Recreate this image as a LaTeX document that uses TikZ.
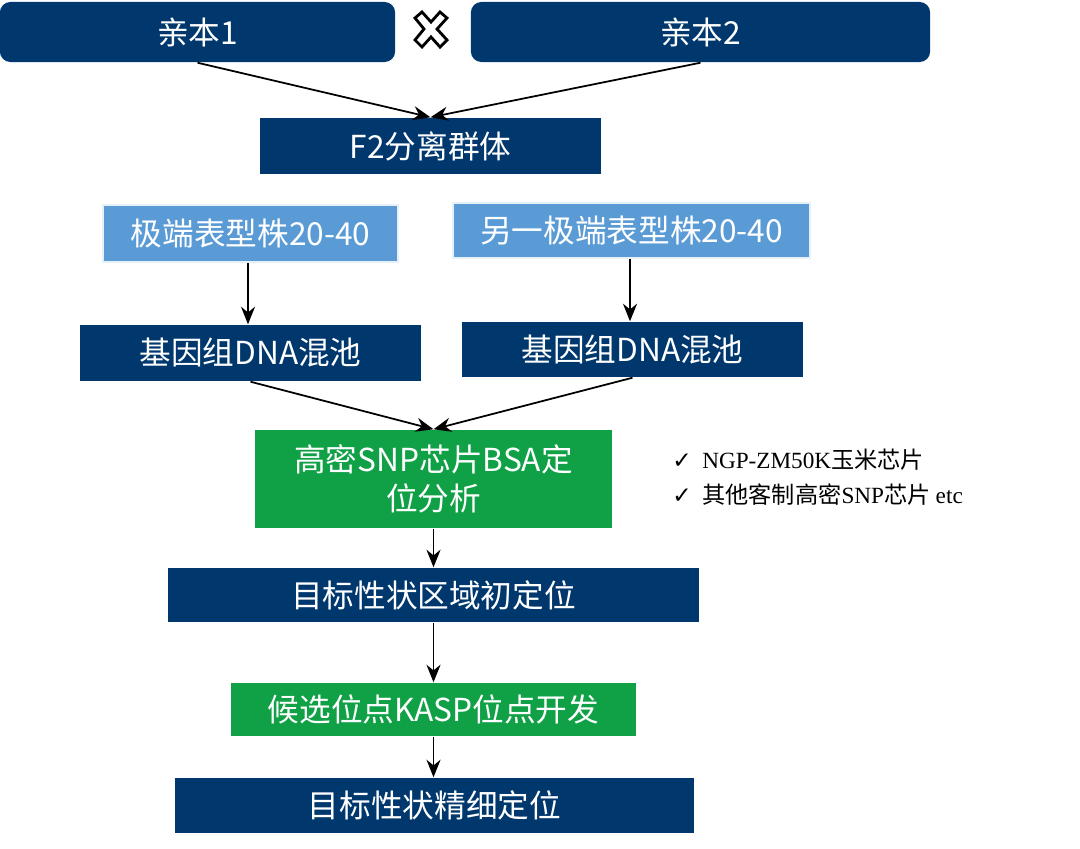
\documentclass[tikz,border=0pt]{standalone}
\usepackage{fontspec}
\setmainfont{Noto Sans CJK SC}
\newfontfamily\cjk{Noto Sans CJK SC}
\newfontfamily\serifl{Liberation Serif}
\newfontfamily\chk{DejaVu Sans}
\usetikzlibrary{arrows.meta}
\definecolor{navy}{RGB}{0,56,110}
\definecolor{lblue}{RGB}{91,155,213}
\definecolor{gr}{RGB}{16,160,70}
\tikzset{
 bx/.style={fill=navy,text=white,font=\fontsize{9}{11}\selectfont,inner sep=0pt,align=center},
 lb/.style={bx,fill=lblue,draw=white!85!lblue,line width=0.6pt},
 gb/.style={bx,fill=gr},
 ar/.style={-{Stealth[length=5pt,width=4pt]},line width=0.5pt},
}
\newcommand{\boxat}[6]{\node[#1,minimum width=#4*0.01cm,minimum height=#5*0.01cm,rounded corners=#6] (#2) at (#3) {};}
\begin{document}
\begin{tikzpicture}[x=0.01cm,y=-0.01cm]
\useasboundingbox (0,0) rectangle (1080,848);
\node[bx,minimum width=3.95cm,minimum height=0.6cm,rounded corners=3pt] (p1) at (197.5,32) {亲本1};
\node[bx,minimum width=4.59cm,minimum height=0.6cm,rounded corners=3pt] (p2) at (700.5,32) {亲本2};
\draw[line width=0.8pt,fill=white] (415,18)--(422,12)--(431,22)--(440,12)--(447,18)--(437,29)--(447,40)--(440,47)--(431,37)--(422,47)--(415,40)--(424,29)--cycle;
\node[bx,minimum width=3.41cm,minimum height=0.56cm] (f2) at (430.5,146) {F2分离群体};
\node[lb,minimum width=2.95cm,minimum height=0.57cm] (e1) at (250.5,233.5) {极端表型株20-40};
\node[lb,minimum width=3.57cm,minimum height=0.55cm] (e2) at (631.5,230.5) {另一极端表型株20-40};
\node[bx,minimum width=3.41cm,minimum height=0.56cm] (d1) at (250.5,353) {基因组DNA混池};
\node[bx,minimum width=3.41cm,minimum height=0.55cm] (d2) at (632.5,349.5) {基因组DNA混池};
\node[gb,minimum width=3.57cm,minimum height=0.98cm] (g) at (433.5,479) {高密SNP芯片BSA定\\位分析};
\node[bx,minimum width=5.31cm,minimum height=0.54cm] (r) at (433.5,595) {目标性状区域初定位};
\node[gb,minimum width=4.05cm,minimum height=0.53cm] (k) at (433.5,709.5) {候选位点KASP位点开发};
\node[bx,minimum width=5.19cm,minimum height=0.55cm] (fm) at (434.5,805.5) {目标性状精细定位};
\node[anchor=west,font=\fontsize{6.6}{8}\selectfont,align=left] (c1) at (660,460) {{\chk ✓}\ \ {\serifl NGP-ZM50K}玉米芯片};
\node[anchor=west,font=\fontsize{6.6}{8}\selectfont,align=left] (c2) at (660,495) {{\chk ✓}\ \ 其他客制高密{\serifl SNP}芯片 {\serifl etc}};
\draw[ar] (p1.south) -- (f2.north);
\draw[ar] (p2.south) -- (f2.north);
\draw[ar] ([xshift=-0.025cm]e1.south) -- ([xshift=-0.025cm]d1.north);
\draw[ar] ([xshift=-0.015cm]e2.south) -- ([xshift=-0.025cm]d2.north);
\draw[ar] (d1.south) -- (g.north);
\draw[ar] (d2.south) -- (g.north);
\draw[ar] (g.south) -- (r.north);
\draw[ar] (r.south) -- (k.north);
\draw[ar] (k.south) -- ([xshift=-0.01cm]fm.north);
\end{tikzpicture}
\end{document}
